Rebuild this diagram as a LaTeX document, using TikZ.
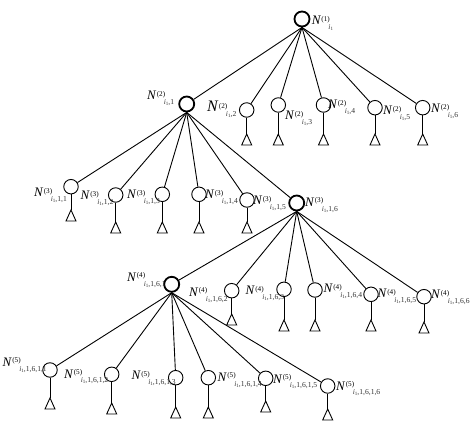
\documentclass[tikz,border=0pt]{standalone}
\usepackage{fontspec}
\setmainfont{Liberation Serif}
\newcommand\NL[2]{\textit{N}\kern0.3pt\raisebox{3.9pt}{\fontsize{7.2}{7.2}\selectfont(#1)}\kern-1.4pt\raisebox{-4.6pt}{\fontsize{7.6}{7.6}\selectfont\color{black!80}#2}}
\newcommand\ii{\textit{i}\kern0.1pt\raisebox{-1pt}{\fontsize{5}{5}\selectfont 1}}
\tikzset{
  edge/.style={line width=0.9pt},
  nd/.style={circle, draw, line width=0.9pt, minimum size=14.5pt, inner sep=0pt},
  ndk/.style={nd, line width=1.8pt, minimum size=15pt},
  lab/.style={anchor=base west, inner sep=0pt, font=\fontsize{13}{13}\selectfont},
}
\begin{document}
\begin{tikzpicture}[x=1pt,y=-1pt]
\useasboundingbox (0,0) rectangle (474,438);
% nodes
\node[ndk] (R) at (302,19) {};
\node[ndk] (a1) at (186.7,104) {};
\node[nd] (a2) at (246.7,110) {};
\node[nd] (a3) at (278.3,105) {};
\node[nd] (a4) at (323.5,105) {};
\node[nd] (a5) at (375,107.7) {};
\node[nd] (a6) at (422.7,107.7) {};
\node[nd] (b1) at (71,186.7) {};
\node[nd] (b2) at (115.7,195) {};
\node[nd] (b3) at (162.3,194.3) {};
\node[nd] (b4) at (199,194.3) {};
\node[nd] (b5) at (247,200) {};
\node[ndk] (b6) at (296.7,203) {};
\node[ndk] (c1) at (171.7,284.3) {};
\node[nd] (c2) at (231.7,290.7) {};
\node[nd] (c3) at (284,289.3) {};
\node[nd] (c4) at (315,290) {};
\node[nd] (c5) at (371,294.3) {};
\node[nd] (c6) at (424,296.7) {};
\node[nd] (d1) at (50,370) {};
\node[nd] (d2) at (111.7,374.3) {};
\node[nd] (d3) at (175.7,377.7) {};
\node[nd] (d4) at (208.3,377.7) {};
\node[nd] (d5) at (265.7,378.3) {};
\node[nd] (d6) at (327.7,386) {};
% labels
\node[lab] (lR) at (311.7,25) {\NL{1}{\ii}};
\node[lab] (la1) at (147,100) {\NL{2}{\ii,1}};
\node[lab,font=\fontsize{16}{16}\selectfont] (la2) at (207,112) {\NL{2}{\ii,2}};
\node[lab] (la3) at (285,120) {\NL{2}{\ii,3}};
\node[lab] (la4) at (328,109) {\NL{2}{\ii,4}};
\node[lab] (la5) at (383,115) {\NL{2}{\ii,5}};
\node[lab] (la6) at (431,113) {\NL{2}{\ii,6}};
\node[lab] (lb1) at (34,197) {\NL{3}{\ii,1,1}};
\node[lab] (lb2) at (80.5,200) {\NL{3}{\ii,1,2}};
\node[lab] (lb3) at (127,199) {\NL{3}{\ii,1,3}};
\node[lab] (lb4) at (205,199) {\NL{3}{\ii,1,4}};
\node[lab] (lb5) at (253,205) {\NL{3}{\ii,1,5}};
\node[lab] (lb6) at (305,206.7) {\NL{3}{\ii,1,6}};
\node[lab] (lc1) at (127,281.7) {\NL{4}{\ii,1,6,1}};
\node[lab] (lc2) at (189,296.7) {\NL{4}{\ii,1,6,2}};
\node[lab] (lc3) at (245.5,295) {\NL{4}{\ii,1,6,3}};
\node[lab] (lc4) at (323.5,293) {\NL{4}{\ii,1,6,4}};
\node[lab] (lc5) at (377.5,298) {\NL{4}{\ii,1,6,5}};
\node[lab] (lc6) at (431,299) {\NL{4}{\ii,1,6,6}};
\node[lab] (ld1) at (2.5,366.7) {\NL{5}{\ii,1,6,1,1}};
\node[lab] (ld2) at (64,378) {\NL{5}{\ii,1,6,1,2}};
\node[lab] (ld3) at (131.5,380) {\NL{5}{\ii,1,6,1,3}};
\node[lab] (ld4) at (217.5,381.7) {\NL{5}{\ii,1,6,1,4}};
\node[lab] (ld5) at (273,383) {\NL{5}{\ii,1,6,1,5}};
\node[lab] (ld6) at (336,390) {\NL{5}{\ii,1,6,1,6}};
% edges
\foreach \c in {a1,a2,a3,a4,a5,a6} \draw[edge] (R.south) -- (\c);
\foreach \c in {b1,b2,b3,b4,b5,b6} \draw[edge] (a1.south) -- (\c);
\foreach \c in {c1,c2,c3,c4,c5,c6} \draw[edge] (b6.south) -- (\c);
\foreach \c in {d1,d2,d3,d4,d5,d6} \draw[edge] (c1.south) -- (\c);
% subtree triangles
\foreach \n/\x/\y in {a2/246.7/134, a3/278.3/134, a4/323.5/134, a5/375/134, a6/422.7/134,
  b1/71/210, b2/115.7/222, b3/162.3/222, b4/199/222, b5/247/222,
  c2/231.7/314, c3/284/320, c4/315/320, c5/371/320, c6/424/322,
  d1/50/398, d2/111.7/403, d3/175.7/407, d4/208.3/407, d5/265.7/401, d6/327.7/409} {
  \coordinate (t\n) at (\x,\y);
  \draw[edge] (\n) -- (t\n);
  \draw[edge] (t\n) -- ++(-5,11) -- ++(10,0) -- cycle;
}
\end{tikzpicture}
\end{document}
